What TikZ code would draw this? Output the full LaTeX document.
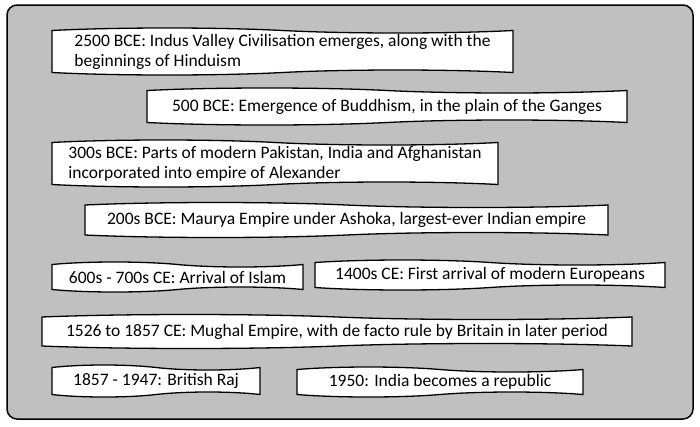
\documentclass[tikz,border=0pt]{standalone}
\usepackage{fontspec}
\setmainfont{Carlito}
\usetikzlibrary{shapes.symbols}

\tikzset{
  era/.style={shape=tape, draw=black, line width=1.3pt, fill=white,
    tape bend top=out and in, tape bend bottom=in and out, tape bend height=5pt,
    inner sep=0pt, align=left, font=\fontsize{17.5}{20}\selectfont}
}

\begin{document}
\begin{tikzpicture}[x=1pt, y=-1pt]
        \useasboundingbox (0,0) rectangle (700,426);

        % Fondo
        \draw[line width=1.5pt, fill={rgb,255:red,192;green,192;blue,192}, rounded corners=10pt]
            (7,5) rectangle (693,419);

        % Periodos
        \node[era, minimum width=461pt, minimum height=47pt] (indus) at (282.5,51.5)
            {2500 BCE: Indus Valley Civilisation emerges, along with the\\beginnings of Hinduism};
        \node[era, minimum width=480pt, minimum height=37pt] (buddha) at (387,106.5)
            {500 BCE: Emergence of Buddhism, in the plain of the Ganges};
        \node[era, minimum width=446pt, minimum height=47pt] (alexander) at (275,163.5)
            {300s BCE: Parts of modern Pakistan, India and Afghanistan\\incorporated into empire of Alexander};
        \node[era, minimum width=523pt, minimum height=35pt] (maurya) at (346.5,220)
            {200s BCE: Maurya Empire under Ashoka, largest-ever Indian empire};
        \node[era, minimum width=251pt, minimum height=30pt] (islam) at (177.5,277)
            {600s - 700s CE: Arrival of Islam};
        \node[era, minimum width=350pt, minimum height=30pt] (europe) at (490,275)
            {1400s CE: First arrival of modern Europeans};
        \node[era, minimum width=590pt, minimum height=34pt] (mughal) at (337,331.5)
            {1526 to 1857 CE: Mughal Empire, with de facto rule by Britain in later period};
        \node[era, minimum width=208pt, minimum height=32pt] (raj) at (156,381)
            {1857 - 1947: British Raj};
        \node[era, minimum width=286pt, minimum height=30pt] (republic) at (440,382)
            {1950: India becomes a republic};
    \end{tikzpicture}
\end{document}
